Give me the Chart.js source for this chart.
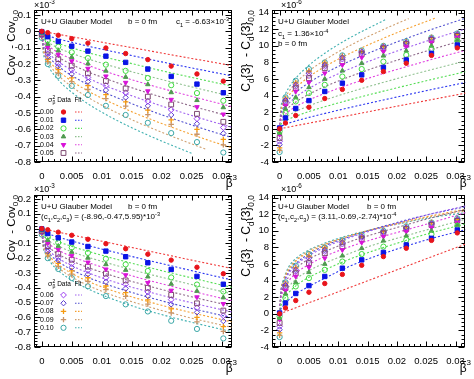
<!DOCTYPE html>
<html><head><meta charset="utf-8">
<script src="https://cdn.jsdelivr.net/npm/chart.js@4.4.1/dist/chart.umd.min.js"></script>
<style>
html,body{margin:0;padding:0;background:#fff;}
body{position:relative;width:474px;height:379px;overflow:hidden;}
canvas{position:absolute;}
</style></head><body>
<canvas id="pTL" width="240" height="190" style="left:0;top:0"></canvas>
<canvas id="pTR" width="237" height="190" style="left:237px;top:0"></canvas>
<canvas id="pBL" width="240" height="199" style="left:0;top:180px"></canvas>
<canvas id="pBR" width="237" height="199" style="left:237px;top:180px"></canvas>
<script>
// ---------------- DATA ----------------
const sigmaLabels = ['0.00','0.01','0.02','0.03','0.04','0.05','0.06','0.07','0.08','0.09','0.10'];
const betaCubed = [0, 0.001, 0.00275, 0.005, 0.0077, 0.0107, 0.014, 0.0177, 0.0216, 0.0259, 0.0303];

// Cov - Cov_{0,0}  (x10^-3), one row per sigma^2
const covData = [
  [0, -0.008, -0.024, -0.045, -0.072, -0.102, -0.136, -0.173, -0.213, -0.261, -0.305],
  [-0.002, -0.033, -0.062, -0.091, -0.121, -0.152, -0.190, -0.231, -0.276, -0.323, -0.376],
  [-0.006, -0.055, -0.094, -0.128, -0.164, -0.204, -0.242, -0.286, -0.330, -0.378, -0.425],
  [-0.010, -0.078, -0.118, -0.158, -0.198, -0.242, -0.280, -0.325, -0.374, -0.422, -0.466],
  [-0.014, -0.098, -0.142, -0.182, -0.228, -0.275, -0.314, -0.366, -0.418, -0.463, -0.508],
  [-0.018, -0.118, -0.170, -0.210, -0.257, -0.304, -0.350, -0.400, -0.448, -0.505, -0.554],
  [-0.022, -0.138, -0.195, -0.236, -0.282, -0.332, -0.376, -0.428, -0.480, -0.535, -0.589],
  [-0.026, -0.155, -0.214, -0.262, -0.308, -0.360, -0.405, -0.456, -0.512, -0.566, -0.625],
  [-0.030, -0.171, -0.235, -0.285, -0.332, -0.388, -0.432, -0.482, -0.542, -0.600, -0.662],
  [-0.034, -0.186, -0.255, -0.308, -0.356, -0.412, -0.458, -0.510, -0.570, -0.630, -0.695],
  [-0.040, -0.200, -0.273, -0.334, -0.390, -0.456, -0.512, -0.560, -0.623, -0.678, -0.742]
];
// C_d{3} - C_d{3}_{0,0}  (x10^-6)
const cdData = [
  [0, 0.7, 1.6, 2.6, 3.65, 4.75, 5.85, 6.9, 7.9, 8.85, 9.75],
  [0.1, 1.3, 2.45, 3.4, 4.5, 5.5, 6.5, 7.4, 8.3, 9.1, 10.1],
  [-0.3, 1.9, 3.3, 4.3, 5.3, 6.3, 7.2, 8.1, 8.9, 9.6, 10.6],
  [-0.5, 2.4, 3.8, 5.0, 6.0, 7.0, 7.9, 8.8, 9.4, 10.0, 10.7],
  [-0.7, 2.8, 4.5, 5.6, 6.7, 7.7, 8.6, 9.3, 9.9, 10.4, 11.0],
  [-1.1, 3.1, 4.9, 6.1, 7.3, 8.1, 9.0, 9.7, 10.2, 10.7, 11.2],
  [-1.5, 3.3, 5.1, 6.4, 7.5, 8.4, 9.2, 9.8, 10.3, 10.8, 11.3],
  [-1.9, 3.45, 5.3, 6.7, 7.7, 8.6, 9.3, 9.9, 10.4, 10.9, 11.4],
  [-2.3, 3.6, 5.5, 6.9, 7.9, 8.7, 9.35, 9.95, 10.5, 11.0, 11.4],
  [-2.6, 3.7, 5.6, 7.0, 8.0, 8.8, 9.4, 10.0, 10.5, 11.0, 11.45],
  [-2.8, 3.8, 5.8, 7.2, 8.0, 8.85, 9.45, 10.0, 10.55, 11.0, 11.5]
];

// fit curves (sampled)
const fitXTopLeft = [0, 0.0002, 0.0006, 0.0015, 0.003, 0.005, 0.008, 0.012, 0.016, 0.02, 0.025, 0.0275, 0.0317];
const covFitTop = [
  [0, -0.001, -0.004, -0.010, -0.020, -0.033, -0.053, -0.080, -0.106, -0.133, -0.166, -0.182, -0.210],
  [0, -0.013, -0.021, -0.033, -0.049, -0.067, -0.093, -0.125, -0.156, -0.187, -0.224, -0.242, -0.273],
  [0, -0.025, -0.038, -0.055, -0.077, -0.101, -0.133, -0.171, -0.206, -0.241, -0.282, -0.302, -0.336],
  [0, -0.036, -0.054, -0.078, -0.106, -0.135, -0.172, -0.216, -0.257, -0.295, -0.340, -0.362, -0.398],
  [0, -0.048, -0.071, -0.101, -0.135, -0.169, -0.212, -0.262, -0.307, -0.349, -0.398, -0.422, -0.461],
  [0, -0.060, -0.088, -0.124, -0.163, -0.203, -0.252, -0.307, -0.357, -0.403, -0.457, -0.482, -0.524],
  [0, -0.071, -0.105, -0.147, -0.192, -0.237, -0.292, -0.353, -0.407, -0.457, -0.515, -0.543, -0.587],
  [0, -0.083, -0.121, -0.169, -0.221, -0.271, -0.332, -0.398, -0.457, -0.511, -0.573, -0.603, -0.650],
  [0, -0.094, -0.138, -0.192, -0.249, -0.305, -0.371, -0.444, -0.507, -0.564, -0.631, -0.663, -0.713],
  [0, -0.106, -0.155, -0.215, -0.278, -0.339, -0.411, -0.489, -0.557, -0.618, -0.689, -0.723],
  [0, -0.118, -0.172, -0.238, -0.307, -0.373, -0.451, -0.535, -0.607, -0.672, -0.747]
];
const fitXTopRight = [0, 0.0002, 0.0006, 0.0015, 0.003, 0.005, 0.008, 0.012, 0.018, 0.022, 0.0265, 0.0317];
const cdFitTop = [
  [0, 0.03, 0.08, 0.20, 0.41, 0.68, 1.09, 1.63, 2.45, 2.99, 3.60, 4.30],
  [0, 0.27, 0.43, 0.67, 1.00, 1.38, 1.90, 2.57, 3.52, 4.14, 4.82, 5.59],
  [0, 0.50, 0.77, 1.14, 1.58, 2.08, 2.72, 3.50, 4.59, 5.28, 6.04, 6.88],
  [0, 0.74, 1.11, 1.61, 2.17, 2.77, 3.54, 4.43, 5.66, 6.42, 7.25, 8.17],
  [0, 0.98, 1.46, 2.07, 2.76, 3.47, 4.35, 5.37, 6.73, 7.56, 8.47, 9.46],
  [0, 1.22, 1.80, 2.54, 3.35, 4.17, 5.17, 6.30, 7.80, 8.71, 9.69, 10.75],
  [0, 1.46, 2.15, 3.01, 3.94, 4.87, 5.98, 7.24, 8.87, 9.85, 10.90, 12.04],
  [0, 1.70, 2.49, 3.47, 4.53, 5.56, 6.80, 8.17, 9.93, 10.99, 12.12, 13.33],
  [0, 1.94, 2.83, 3.94, 5.11, 6.26, 7.62, 9.10, 11.00, 12.14, 13.33],
  [0, 2.18, 3.18, 4.41, 5.70, 6.96, 8.43, 10.04, 12.07, 13.28],
  [0, 2.41, 3.52, 4.88, 6.29, 7.66, 9.25, 10.97, 13.14]
];
const fitXBottom = [0, 0.0002, 0.0006, 0.0015, 0.003, 0.005, 0.008, 0.012, 0.016, 0.02, 0.025, 0.0317];
const covFitBottom = [
  [0, -0.002, -0.005, -0.013, -0.026, -0.043, -0.068, -0.102, -0.136, -0.170, -0.213, -0.269],
  [0, -0.016, -0.026, -0.041, -0.061, -0.084, -0.117, -0.158, -0.198, -0.236, -0.284, -0.347],
  [0, -0.029, -0.044, -0.066, -0.092, -0.120, -0.157, -0.202, -0.244, -0.284, -0.333, -0.397],
  [0, -0.043, -0.064, -0.092, -0.123, -0.156, -0.197, -0.244, -0.288, -0.329, -0.378, -0.440],
  [0, -0.055, -0.081, -0.114, -0.151, -0.188, -0.233, -0.284, -0.330, -0.373, -0.423, -0.486],
  [0, -0.067, -0.098, -0.137, -0.178, -0.219, -0.267, -0.321, -0.368, -0.411, -0.461, -0.523],
  [0, -0.079, -0.115, -0.160, -0.206, -0.251, -0.303, -0.359, -0.407, -0.451, -0.501, -0.563],
  [0, -0.089, -0.130, -0.179, -0.230, -0.278, -0.334, -0.393, -0.443, -0.488, -0.539, -0.602],
  [0, -0.099, -0.143, -0.197, -0.251, -0.303, -0.361, -0.422, -0.473, -0.518, -0.568, -0.630],
  [0, -0.108, -0.156, -0.214, -0.273, -0.327, -0.389, -0.453, -0.506, -0.553, -0.605, -0.667],
  [0, -0.116, -0.168, -0.230, -0.292, -0.349, -0.413, -0.479, -0.534, -0.581, -0.633, -0.696]
];
const cdFitBottom = [
  [0, 0.05, 0.16, 0.40, 0.80, 1.33, 2.12, 3.18, 4.24, 5.30, 6.63, 8.40],
  [0, 0.55, 0.95, 1.65, 2.5, 3.3, 4.4, 5.75, 6.85, 7.8, 8.9, 10.15],
  [0, 0.9, 1.5, 2.5, 3.5, 4.4, 5.4, 6.6, 7.6, 8.5, 9.6, 10.85],
  [0, 1.3, 2.1, 3.2, 4.3, 5.2, 6.2, 7.3, 8.3, 9.1, 10.1, 11.4],
  [0, 1.7, 2.7, 3.9, 5.0, 5.95, 7.0, 8.1, 9.0, 9.8, 10.8, 12.2],
  [0, 2.0, 3.1, 4.4, 5.6, 6.6, 7.6, 8.7, 9.6, 10.4, 11.4, 12.6],
  [0, 2.3, 3.5, 4.8, 6.0, 7.0, 8.1, 9.2, 10.1, 10.9, 11.9, 13.0],
  [0, 2.4, 3.6, 5.0, 6.2, 7.2, 8.3, 9.3, 10.2, 11.0, 11.9, 12.9],
  [0, 2.5, 3.8, 5.2, 6.5, 7.4, 8.4, 9.4, 10.2, 10.9, 11.7, 12.6],
  [0, 2.6, 3.9, 5.4, 6.6, 7.6, 8.5, 9.4, 10.2, 10.8, 11.6, 12.4],
  [0, 2.7, 4.0, 5.6, 6.8, 7.7, 8.6, 9.5, 10.2, 10.8, 11.5, 12.2]
];

const xTicks = [0, 0.005, 0.01, 0.015, 0.02, 0.025, 0.03];
const covTicksTop = [0.1, 0, -0.1, -0.2, -0.3, -0.4, -0.5, -0.6, -0.7, -0.8];
const covTicksBottom = [0.2, 0.1, 0, -0.1, -0.2, -0.3, -0.4, -0.5, -0.6, -0.7, -0.8];
const cdTicks = [14, 12, 10, 8, 6, 4, 2, 0, -2, -4];

// ---------------- STYLE ----------------
const FONT = '"Liberation Sans", Arial, Helvetica, sans-serif';
const markers = [
  {c:'#e8141b', fc:'#e8141b', s:'circle', r:2.2},
  {c:'#0a14e6', fc:'#0a14e6', s:'rect', r:3.1},
  {c:'#3fdc3f', fc:'rgba(0,0,0,0)', s:'circle', r:2.6},
  {c:'#4f9a4f', fc:'#4f9a4f', s:'triangle', r:2.6},
  {c:'#d814d8', fc:'#d814d8', s:'triangle', r:2.6, rot:180},
  {c:'#7c4870', fc:'rgba(0,0,0,0)', s:'rect', r:3.4},
  {c:'#9b3cf0', fc:'rgba(0,0,0,0)', s:'rectRot', r:2.9},
  {c:'#5a3ccf', fc:'rgba(0,0,0,0)', s:'rectRot', r:2.7},
  {c:'#f59a10', fc:'rgba(0,0,0,0)', s:'cross', r:2.7},
  {c:'#c89468', fc:'rgba(0,0,0,0)', s:'cross', r:2.7},
  {c:'#3aa6a6', fc:'rgba(0,0,0,0)', s:'circle', r:2.6}
];
const fitColors = ['#f03a3a','#2a35f0','#55dd55','#8fc08f','#e040e0','#8e6a8a','#a060f0','#5050d0','#f5a030','#d0a070','#40b0b0'];

function richWidth(ctx, segs, size){
  let w=0; for(const [t,m] of segs){ ctx.font=(m?size*0.7:size)+'px '+FONT; w+=ctx.measureText(t).width; } return w;
}
function drawRich(ctx, x, y, segs, size, align){
  const w = richWidth(ctx, segs, size);
  let cx = align==='right' ? x-w : (align==='center' ? x-w/2 : x);
  ctx.textAlign='left'; ctx.textBaseline='alphabetic'; ctx.fillStyle='#000';
  for(const [t,m] of segs){
    const s = m ? size*0.7 : size;
    ctx.font = s+'px '+FONT;
    const dy = m===1 ? size*0.32 : (m===2 ? -size*0.42 : 0);
    ctx.fillText(t, cx, y+dy);
    cx += ctx.measureText(t).width;
  }
}
function drawMarker(ctx, k, x, y){
  const m = markers[k];
  ctx.save();
  ctx.fillStyle = m.fc; ctx.strokeStyle = m.c; ctx.lineWidth = (m.s==='cross')?1.3:1;
  Chart.helpers.drawPoint(ctx, {pointStyle:m.s, radius:m.r, rotation:m.rot||0, borderWidth:1}, x, y);
  ctx.restore();
}
function drawBeta(ctx, xr, y){
  ctx.fillStyle='#000'; ctx.font='12px '+FONT; ctx.textAlign='left'; ctx.textBaseline='alphabetic';
  const wb = ctx.measureText('β').width;
  ctx.font='8px '+FONT; const w3 = ctx.measureText('3').width;
  const x0 = xr - wb - w3;
  ctx.font='12px '+FONT; ctx.fillText('β', x0, y);
  ctx.strokeStyle='#000'; ctx.lineWidth=0.9;
  ctx.beginPath(); ctx.moveTo(x0+0.5, y-10.5); ctx.lineTo(x0+wb-0.5, y-10.5); ctx.stroke();
  ctx.font='8px '+FONT; ctx.fillText('3', x0+wb, y-7);
}

const panels = [
  {id:'pTL', left:0, top:0, w:240, h:190, fr:{l:34, r:237, t:10, b:162},
   yMin:-0.8, yMax:0.1306, yTicks:covTicksTop, yMinor:0.02, yMajorEvery:5,
   data:covData, fitX:fitXTopLeft, fits:covFitTop},
  {id:'pTR', left:237, top:0, w:237, h:190, fr:{l:272, r:471, t:10, b:162},
   yMin:-4, yMax:14.32, yTicks:cdTicks, yMinor:0.5, yMajorEvery:4,
   data:cdData, fitX:fitXTopRight, fits:cdFitTop},
  {id:'pBL', left:0, top:180, w:240, h:199, fr:{l:34, r:237, t:195, b:347},
   yMin:-0.8, yMax:0.227, yTicks:covTicksBottom, yMinor:0.02, yMajorEvery:5,
   data:covData, fitX:fitXBottom, fits:covFitBottom},
  {id:'pBR', left:237, top:180, w:237, h:199, fr:{l:272, r:471, t:195, b:347},
   yMin:-4, yMax:14.32, yTicks:cdTicks, yMinor:0.5, yMajorEvery:4,
   data:cdData, fitX:fitXBottom, fits:cdFitBottom}
];

function drawTexts(ctx, idx){
  const covTitle = [['Cov',0],['  - Cov',0],['0,0',1]];
  const cdTitle = [['C',0],['d',1],['{3}  - C',0],['d',1],['{3}',0],['0,0',1]];
  if(idx===0){
    ctx.save(); ctx.translate(14.5,10); ctx.rotate(-Math.PI/2); drawRich(ctx,0,0,covTitle,11.5,'right'); ctx.restore();
    drawRich(ctx,34,8,[['×10',0],['-3',2]],9,'left');
    drawRich(ctx,41,24,[['U+U Glauber Model',0]],8,'left');
    drawRich(ctx,128,24,[['b = 0 fm',0]],8,'left');
    drawRich(ctx,176,24,[['c',0],['1',1],[' = -6.63×10',0],['-3',2]],8,'left');
    drawBeta(ctx,237,187);
    drawLegend(ctx, 102, [0,1,2,3,4,5], 112, 8.2);
  } else if(idx===1){
    ctx.save(); ctx.translate(250,10); ctx.rotate(-Math.PI/2); drawRich(ctx,0,0,cdTitle,12,'right'); ctx.restore();
    drawRich(ctx,281,8,[['×10',0],['-6',2]],9,'left');
    drawRich(ctx,278,24,[['U+U Glauber Model',0]],8,'left');
    drawRich(ctx,278,36,[['c',0],['1',1],[' = 1.36×10',0],['-4',2]],8,'left');
    drawRich(ctx,278,46,[['b = 0 fm',0]],8,'left');
    drawBeta(ctx,471,187);
  } else if(idx===2){
    ctx.save(); ctx.translate(14.5,195); ctx.rotate(-Math.PI/2); drawRich(ctx,0,0,covTitle,11.5,'right'); ctx.restore();
    drawRich(ctx,34,192,[['×10',0],['-3',2]],9,'left');
    drawRich(ctx,41,209,[['U+U Glauber Model',0]],8,'left');
    drawRich(ctx,128,209,[['b = 0 fm',0]],8,'left');
    drawRich(ctx,41,219,[['(c',0],['1',1],[',c',0],['2',1],[',c',0],['3',1],[') = (-8.96,-0.47,5.95)*10',0],['-3',2]],8,'left');
    drawBeta(ctx,237,372);
    drawLegend(ctx, 286, [6,7,8,9,10], 295, 8.2);
  } else {
    ctx.save(); ctx.translate(250,195); ctx.rotate(-Math.PI/2); drawRich(ctx,0,0,cdTitle,12,'right'); ctx.restore();
    drawRich(ctx,281,192,[['×10',0],['-6',2]],9,'left');
    drawRich(ctx,278,209,[['U+U Glauber Model',0]],8,'left');
    drawRich(ctx,367,209,[['b = 0 fm',0]],8,'left');
    drawRich(ctx,278,219,[['(c',0],['1',1],[',c',0],['2',1],[',c',0],['3',1],[') = (3.11,-0.69,-2.74)*10',0],['-4',2]],8,'left');
    drawBeta(ctx,471,372);
  }
}
function drawLegend(ctx, headY, rows, y0, dy){
  ctx.fillStyle='#000';
  ctx.font='7px '+FONT; ctx.textAlign='left'; ctx.textBaseline='alphabetic';
  ctx.fillText('σ', 48, headY);
  ctx.font='5px '+FONT; ctx.fillText('2', 52.5, headY-3); ctx.fillText('β', 52.5, headY+2);
  ctx.font='6.5px '+FONT; ctx.textAlign='center';
  ctx.fillText('Data', 64, headY); ctx.fillText('Fit', 78, headY);
  rows.forEach((k,i)=>{
    const y = y0 + i*dy;
    ctx.fillStyle='#000'; ctx.font='7px '+FONT; ctx.textAlign='left'; ctx.textBaseline='middle';
    ctx.fillText(sigmaLabels[k], 40, y);
    drawMarker(ctx, k, 63.5, y);
    ctx.save(); ctx.strokeStyle=fitColors[k]; ctx.lineWidth=1.1; ctx.setLineDash([1.5,1.5]);
    ctx.beginPath(); ctx.moveTo(75, y); ctx.lineTo(82, y); ctx.stroke(); ctx.restore();
  });
  ctx.textBaseline='alphabetic';
}

function frameAndTicks(chart, p){
  const ctx = chart.ctx; const {left,right,top,bottom} = chart.chartArea;
  const xs = chart.scales.x, ys = chart.scales.y;
  ctx.save();
  ctx.strokeStyle='#000'; ctx.lineWidth=1;
  const L=Math.round(left)+0.5, R=Math.round(right)-0.5, T=Math.round(top)+0.5, B=Math.round(bottom)-0.5;
  ctx.strokeRect(L, T, R-L, B-T);
  ctx.beginPath();
  const xmin = xs.min, xmax = xs.max;
  for(let i=Math.ceil(xmin/0.001); i<=Math.floor(xmax/0.001); i++){
    const px = Math.round(xs.getPixelForValue(i*0.001))+0.5;
    const len = (i%5===0)?5:2.5;
    ctx.moveTo(px,B); ctx.lineTo(px,B-len);
    ctx.moveTo(px,T); ctx.lineTo(px,T+len);
  }
  const st = p.yMinor;
  for(let i=Math.ceil(p.yMin/st-1e-6); i<=Math.floor(p.yMax/st+1e-6); i++){
    const py = Math.round(ys.getPixelForValue(i*st))+0.5;
    const len = (i%p.yMajorEvery===0)?6:3;
    ctx.moveTo(L,py); ctx.lineTo(L+len,py);
    ctx.moveTo(R,py); ctx.lineTo(R-len,py);
  }
  ctx.stroke();
  ctx.restore();
}

panels.forEach((p, idx)=>{
  const ds = [];
  for(let k=0;k<11;k++){
    const m = markers[k];
    ds.push({
      data: betaCubed.map((x,i)=>({x:x, y:p.data[k][i]})),
      showLine:false, order:1,
      pointStyle:m.s, pointRadius:m.r, pointRotation:m.rot||0,
      backgroundColor:m.fc, borderColor:m.c, pointBorderWidth:(m.s==='cross')?1.3:1,
      pointHoverRadius:m.r
    });
    ds.push({
      data: p.fits[k].map((y,i)=>({x:p.fitX[i], y:y})),
      showLine:true, order:2, pointRadius:0, pointHoverRadius:0,
      borderColor:fitColors[k], backgroundColor:fitColors[k],
      borderWidth:1.1, borderDash:[2,2], cubicInterpolationMode:'monotone', fill:false
    });
  }
  const yw = p.fr.l - p.left;
  const xh = 28;
  const deco = {
    id:'deco'+idx,
    beforeDatasetsDraw(chart){ frameAndTicks(chart,p); },
    afterDraw(chart){
      const ctx=chart.ctx; ctx.save(); ctx.translate(-p.left,-p.top); drawTexts(ctx, idx); ctx.restore();
    }
  };
  new Chart(document.getElementById(p.id), {
    type:'scatter',
    data:{datasets:ds},
    options:{
      responsive:false, animation:false, devicePixelRatio:1, events:[],
      layout:{padding:{left:0, right:(p.left+p.w)-p.fr.r, top:p.fr.t-p.top, bottom:(p.top+p.h)-p.fr.b-xh}},
      plugins:{legend:{display:false}, tooltip:{enabled:false}},
      scales:{
        x:{type:'linear', min:-0.0013, max:0.0317,
           afterBuildTicks:(s)=>{ s.ticks = xTicks.map(v=>({value:v})); },
           afterFit:(s)=>{ s.height = xh; },
           grid:{display:false, drawTicks:false}, border:{display:false},
           ticks:{padding:9, color:'#000', font:{family:FONT, size:9.5}, maxRotation:0, autoSkip:false,
                  callback:(v)=>String(v)}},
        y:{type:'linear', min:p.yMin, max:p.yMax,
           afterBuildTicks:(s)=>{ s.ticks = p.yTicks.map(v=>({value:v})); },
           afterFit:(s)=>{ s.width = yw; },
           grid:{display:false, drawTicks:false}, border:{display:false},
           ticks:{padding:3, color:'#000', font:{family:FONT, size:9.5}, autoSkip:false,
                  callback:(v)=>String(v)}}
      }
    },
    plugins:[deco]
  });
});
</script>
</body></html>
